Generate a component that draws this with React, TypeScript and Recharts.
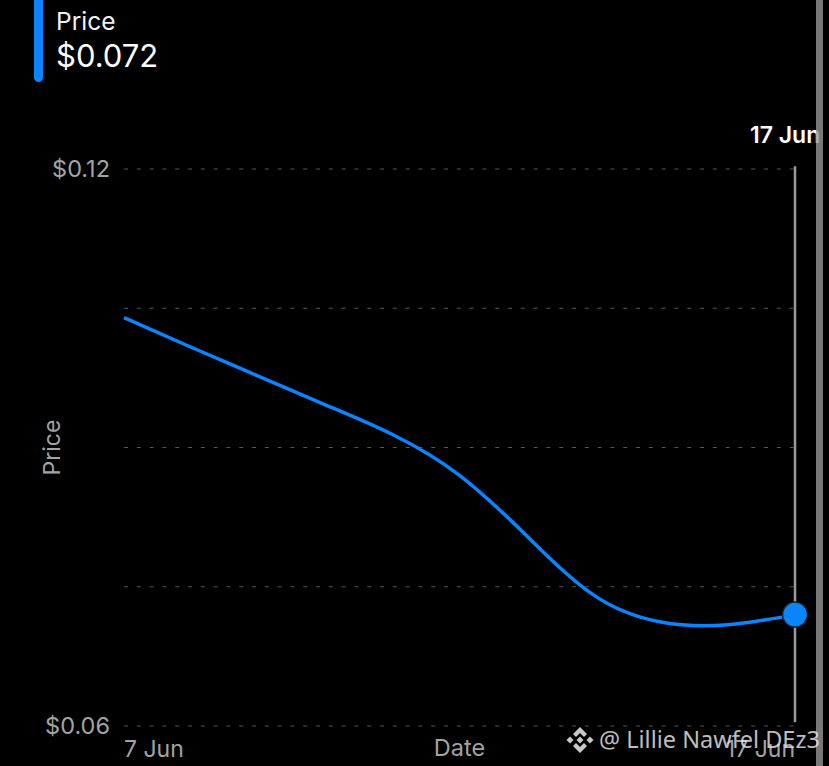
import React from 'react';
import { LineChart, Line, XAxis, YAxis, CartesianGrid, ReferenceLine, Label } from 'recharts';

const days = ['7 Jun', '8 Jun', '9 Jun', '10 Jun', '11 Jun', '12 Jun', '13 Jun', '14 Jun', '15 Jun', '16 Jun', '17 Jun'];
const prices = [0.104, 0.1008, 0.0977, 0.0946, 0.0914, 0.087, 0.0805, 0.0741, 0.0712, 0.0709, 0.072];
const yTicks = [0.06, 0.075, 0.09, 0.105, 0.12];
const xTicks = ['7 Jun', '17 Jun'];
const labeledY = [0.06, 0.12];

const data = days.map((day, i) => ({ day, price: prices[i] }));

const FONT = 'Inter, "Noto Sans", sans-serif';
const BLUE = '#0a84ff';
const MUTED = '#a3a3a3';

const XTick = ({ x, y, payload }: any) => (
  <text
    x={x}
    y={y}
    dy={29}
    fill={MUTED}
    fontSize={23}
    fontFamily={FONT}
    textAnchor={payload.value === '7 Jun' ? 'start' : 'end'}
  >
    {payload.value}
  </text>
);

const LastDot = ({ cx, cy, index }: any) =>
  index === days.length - 1 ? (
    <circle key="last" cx={cx} cy={cy} r={12.5} fill={BLUE} stroke="#1c1c1e" strokeWidth={1.5} />
  ) : (
    <g key={index} />
  );

export default function App() {
  return (
    <div style={{ position: 'absolute', left: 0, top: 0, width: 829, height: 766, background: '#000', overflow: 'hidden', fontFamily: FONT }}>
      <div style={{ position: 'absolute', left: 34, top: -10, width: 9, height: 92, background: BLUE, borderRadius: 5 }} />
      <div style={{ position: 'absolute', left: 56, top: 6, color: '#f2f2f2', fontSize: 24.5, lineHeight: '30px' }}>Price</div>
      <div style={{ position: 'absolute', left: 56, top: 37, color: '#fff', fontSize: 31, lineHeight: '38px' }}>$0.072</div>

      <LineChart width={829} height={766} data={data} margin={{ top: 169, right: 34, bottom: 0, left: 0 }}>
        <CartesianGrid vertical={false} stroke="#555" strokeDasharray="4 8.8" />
        <XAxis
          dataKey="day"
          ticks={xTicks}
          interval={0}
          height={40}
          axisLine={false}
          tickLine={false}
          tickSize={0}
          tick={<XTick />}
        >
          <Label value="Date" position="insideBottom" offset={10} fill={MUTED} fontSize={23.5} fontFamily={FONT} />
        </XAxis>
        <YAxis
          width={124}
          domain={[0.06, 0.12]}
          ticks={yTicks}
          interval={0}
          axisLine={false}
          tickLine={false}
          tickSize={0}
          tickMargin={14}
          tick={{ fill: MUTED, fontSize: 23.5, fontFamily: FONT }}
          tickFormatter={(v: number) => (labeledY.includes(v) ? `$${v.toFixed(2)}` : '')}
        >
          <Label value="Price" angle={-90} position="insideLeft" offset={52} dy={28} fill={MUTED} fontSize={23} fontFamily={FONT} />
        </YAxis>
        <ReferenceLine
          segment={[{ x: '17 Jun', y: 0.1203 }, { x: '17 Jun', y: 0.0604 }]}
          stroke="#9a9a9a"
          strokeWidth={2.5}
          ifOverflow="visible"
        />
        <Line
          type="natural"
          dataKey="price"
          stroke={BLUE}
          strokeWidth={3.5}
          dot={<LastDot />}
          activeDot={false}
          isAnimationActive={false}
        />
      </LineChart>

      <div style={{ position: 'absolute', left: 750, top: 121, color: '#fff', fontSize: 23, fontWeight: 600, lineHeight: '28px', whiteSpace: 'nowrap' }}>17 Jun</div>
      <div style={{ position: 'absolute', left: 816, top: 0, width: 7, height: 766, background: 'rgba(150,150,150,0.8)' }} />

      <svg width={28} height={28} viewBox="0 0 28 28" style={{ position: 'absolute', left: 566, top: 726 }}>
        <g fill="#c9c9c9">
          <path d="M14 1 L21 8 L18 11 L14 7 L10 11 L7 8 Z" />
          <path d="M14 27 L21 20 L18 17 L14 21 L10 17 L7 20 Z" />
          <path d="M4 10.5 L7.5 14 L4 17.5 L0.5 14 Z" />
          <path d="M24 10.5 L27.5 14 L24 17.5 L20.5 14 Z" />
          <path d="M14 10.5 L17.5 14 L14 17.5 L10.5 14 Z" />
        </g>
      </svg>
      <div style={{ position: 'absolute', left: 599, top: 724, color: 'rgba(225,225,225,0.85)', fontSize: 23.5, fontFamily: '"Noto Sans", sans-serif', lineHeight: '30px', whiteSpace: 'nowrap' }}>
        @ Lillie Nawfel DEz3
      </div>
    </div>
  );
}
